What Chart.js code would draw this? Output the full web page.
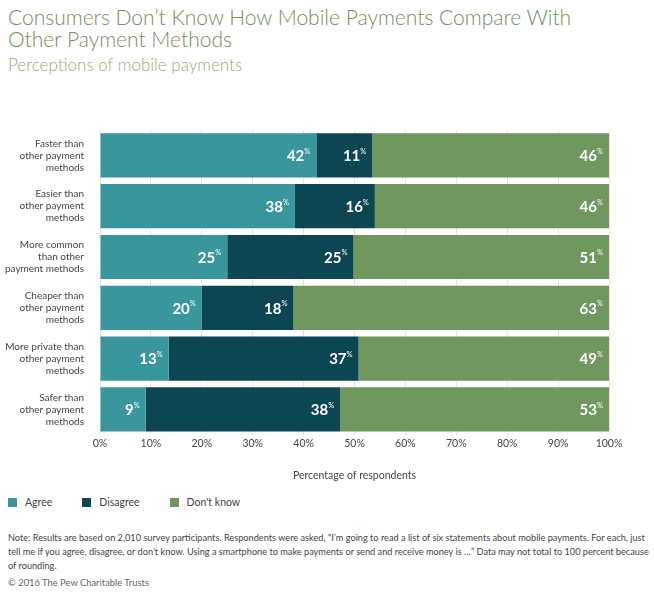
<!DOCTYPE html>
<html><head><meta charset="utf-8">
<script src="https://cdn.jsdelivr.net/npm/chart.js@4"></script>
<style>
body{margin:0;width:654px;height:600px;background:#fff;font-family:Lato,"Open Sans",sans-serif;position:relative;overflow:hidden}
#t{position:absolute;left:8px;top:6px;color:#6f9160;font-size:21px;line-height:22px;font-weight:300}
#s{position:absolute;left:8px;top:54px;color:#8fae7e;font-size:17px;font-weight:300}
#wrap{position:absolute;left:0;top:104px;width:654px;height:382px}
#leg{position:absolute;left:8px;top:496px;font-size:10.5px;color:#444}
#leg span{display:inline-block;width:9px;height:9px;margin-right:8px;vertical-align:-1px}
#note{position:absolute;left:8px;top:531px;width:645px;font-size:9.2px;color:#444;line-height:14px}
#c{position:absolute;left:8px;top:577px;font-size:9.4px;color:#666}
</style></head><body>
<div id="t">Consumers Don’t Know How Mobile Payments Compare With<br>Other Payment Methods</div>
<div id="s">Perceptions of mobile payments</div>
<div id="wrap"><canvas id="myChart"></canvas></div>
<div id="leg"><span style="background:#38969c"></span>Agree<span style="background:#0c4653;margin-left:30px"></span>Disagree<span style="background:#6f975e;margin-left:30px"></span>Don't know</div>
<div id="note">Note: Results are based on 2,010 survey participants. Respondents were asked, “I’m going to read a list of six statements about mobile payments. For each, just tell me if you agree, disagree, or don’t know. Using a smartphone to make payments or send and receive money is …” Data may not total to 100 percent because of rounding.</div>
<div id="c">© 2016 The Pew Charitable Trusts</div>
<script>
var categories = [["Faster than","other payment","methods"],["Easier than","other payment","methods"],["More common","than other","payment methods"],["Cheaper than","other payment","methods"],["More private than","other payment","methods"],["Safer than","other payment","methods"]];
// rounded values shown as labels
var agree = [42, 38, 25, 20, 13, 9];
var disagree = [11, 16, 25, 18, 37, 38];
var dontKnow = [46, 46, 51, 63, 49, 53];
// bar lengths as drawn in the picture (unrounded)
var agreeBar = [42.5, 38.3, 25, 20, 13.5, 9];
var disagreeBar = [11, 15.7, 24.8, 18, 37.3, 38.2];
var dontKnowBar = [46.5, 46, 50.2, 62, 49.2, 52.8];
var tickLabels = ["0%","10%","20%","30%","40%","50%","60%","70%","80%","90%","100%"];

var labelPlugin = {
    id: 'labels',
    afterDatasetsDraw: function(chart){
        var ctx = chart.ctx;
        chart.data.datasets.forEach(function(ds, i){
            chart.getDatasetMeta(i).data.forEach(function(bar, j){
                var v = String(ds.labelValues[j]);
                ctx.save();
                ctx.fillStyle = '#fff';
                ctx.textBaseline = 'middle';
                ctx.font = '7.5px Lato';
                var pw = ctx.measureText('%').width;
                ctx.textAlign = 'right';
                ctx.fillText('%', bar.x - 6, bar.y - 4);
                ctx.font = 'bold 15px Lato';
                ctx.fillText(v, bar.x - 6 - pw, bar.y + 1);
                ctx.restore();
            });
        });
    }
};

var ctx = document.getElementById('myChart').getContext('2d');
var chart = new Chart(ctx, {
    type: 'bar',
    data: {
        labels: categories,
        datasets: [
            {label: 'Agree', data: agreeBar, labelValues: agree, backgroundColor: '#38969c'},
            {label: 'Disagree', data: disagreeBar, labelValues: disagree, backgroundColor: '#0c4653'},
            {label: "Don't know", data: dontKnowBar, labelValues: dontKnow, backgroundColor: '#6f975e'}
        ]
    },
    options: {
        indexAxis: 'y',
        responsive: true,
        maintainAspectRatio: false,
        animation: false,
        layout: {padding: {right: 45, top: 0}},
        plugins: {legend: {display: false}, tooltip: {enabled: false}},
        datasets: {bar: {categoryPercentage: 0.87, barPercentage: 1}},
        scales: {
            x: {
                stacked: true, min: 0, max: 100,
                ticks: {stepSize: 10, color: '#444', font: {size: 10.5, family: 'Lato'},
                    callback: function(v, i){ return tickLabels[i]; }},
                grid: {color: '#e3e3e3', drawTicks: false},
                border: {display: false},
                title: {display: true, text: 'Percentage of respondents', color: '#444', font: {size: 10.5, family: 'Lato'}, padding: {top: 16}}
            },
            y: {
                stacked: true,
                ticks: {color: '#444', font: {size: 10, family: 'Lato'}, padding: 8},
                grid: {display: false},
                border: {display: false},
                afterFit: function(s){ s.width = 100; }
            }
        }
    },
    plugins: [labelPlugin]
});
</script>
</body></html>
